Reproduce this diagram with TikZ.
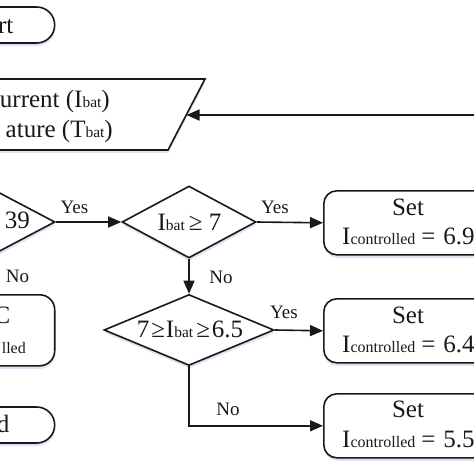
\documentclass[tikz,border=0pt]{standalone}
\usepackage{fontspec}
\setmainfont{Liberation Serif}
\usetikzlibrary{arrows.meta,shapes.geometric,shadows}
\definecolor{shd}{RGB}{218,229,245}
\definecolor{ink}{RGB}{25,25,25}
\newcommand{\bigf}{\fontsize{25}{29}\selectfont}
\newcommand{\subf}{\fontsize{15.5}{17}\selectfont}
\newcommand{\subcf}{\fontsize{16}{18}\selectfont}
\newcommand{\lblf}{\fontsize{19}{22}\selectfont}
\tikzset{
  ln/.style={line width=1.6pt, draw=ink},
  shad/.style={drop shadow={fill=shd, opacity=1, shadow xshift=0.5pt, shadow yshift=-3pt}},
  arr/.style={ln, -{Triangle[length=13pt,width=11pt]}},
  dia/.style={diamond, ln, fill=white, shad, inner sep=0pt},
  term/.style={rectangle, ln, fill=white, shad, rounded corners=18pt, inner sep=0pt},
  setbox/.style={rectangle, ln, fill=white, shad, rounded corners=13pt, inner sep=0pt},
  txt/.style={inner sep=0pt, text=ink},
  lbl/.style={inner sep=0pt, text=ink, anchor=base, font=\lblf}
}
\begin{document}
\begin{tikzpicture}[x=1pt,y=-1pt]
\useasboundingbox (0,0) rectangle (474,474);
\fill[white] (0,0) rectangle (474,474);
% start terminal
\node[term, anchor=east, minimum width=160pt, minimum height=36pt] (start) at (55.5,25) {};
\node[txt, anchor=base east] (startT) at (13.5,33) {\bigf rt};
% input parallelogram
\draw[ln, fill=white, shad] (-60,79) -- (205,79) -- (168,150) -- (-97,150) -- cycle;
\coordinate (inR) at (186.5,115);
\coordinate (fb) at (490,115);
\node[txt, anchor=base east] (inA) at (110,107) {\bigf urrent (I{\subf bat})};
\node[txt, anchor=base east] (inB) at (113,137) {\bigf ature (T{\subf bat})};
% diamonds
\node[dia, minimum width=136pt, minimum height=72pt] (d1) at (-13,222) {};
\node[dia, minimum width=134pt, minimum height=72pt] (d2) at (189,222) {};
\node[dia, minimum width=170pt, minimum height=71pt] (d3) at (189,330) {};
\node[txt, anchor=base east] (d1T) at (30,228) {\bigf 39};
\node[txt, anchor=base] (d2T) at (189.5,230) {\bigf I{\subf bat}\,≥\ 7};
\node[txt, anchor=base] (d3T) at (190,337) {\bigf 7\hspace{2pt}≥\hspace{1pt}I{\subf bat}\hspace{3pt}≥\hspace{2pt}6.5};
% set boxes
\node[setbox, anchor=north west, minimum width=200pt, minimum height=64pt] (b1) at (323,190) {};
\node[setbox, anchor=north west, minimum width=200pt, minimum height=64pt] (b2) at (323,298) {};
\node[setbox, anchor=north west, minimum width=200pt, minimum height=64pt] (b3) at (323,393) {};
\node[txt, anchor=base] (b1a) at (408,215) {\bigf Set};
\node[txt, anchor=base west] (b1b) at (342,244) {\bigf I{\subcf controlled}\hspace{6pt}=\hspace{8pt}6.9};
\node[txt, anchor=base] (b2a) at (408,323) {\bigf Set};
\node[txt, anchor=base west] (b2b) at (342,352) {\bigf I{\subcf controlled}\hspace{6pt}=\hspace{8pt}6.4};
\node[txt, anchor=base] (b3a) at (408,417) {\bigf Set};
\node[txt, anchor=base west] (b3b) at (342,447) {\bigf I{\subcf controlled}\hspace{6pt}=\hspace{8pt}5.5};
% left box and end
\node[setbox, anchor=north east, minimum width=150pt, minimum height=71pt, rounded corners=15pt] (bc) at (55.5,294) {};
\node[txt, anchor=base east] (bcA) at (10.5,323) {\bigf C};
\node[txt, anchor=base east] (bcB) at (26,353) {\subcf lled};
\node[term, anchor=east, minimum width=160pt, minimum height=36pt] (end) at (55.5,425) {};
\node[txt, anchor=base east] (endT) at (9.5,432) {\bigf d};
% connectors
\draw[arr] (fb) -- (inR);
\draw[arr] (d1.east) -- (d2.west);
\draw[arr] (d2.east) -- (b1.west);
\draw[arr] (d2.south) -- (d3.north);
\draw[arr] (d3.east) -- (b2.west);
\draw[arr] (d3.south) |- (b3.west);
% labels
\node[lbl] (y1) at (74.5,213) {Yes};
\node[lbl] (y2) at (275,213) {Yes};
\node[lbl] (y3) at (284,318) {Yes};
\node[lbl] (n1) at (17.5,282) {No};
\node[lbl] (n2) at (221,283) {No};
\node[lbl] (n3) at (228,415) {No};
\end{tikzpicture}
\end{document}
